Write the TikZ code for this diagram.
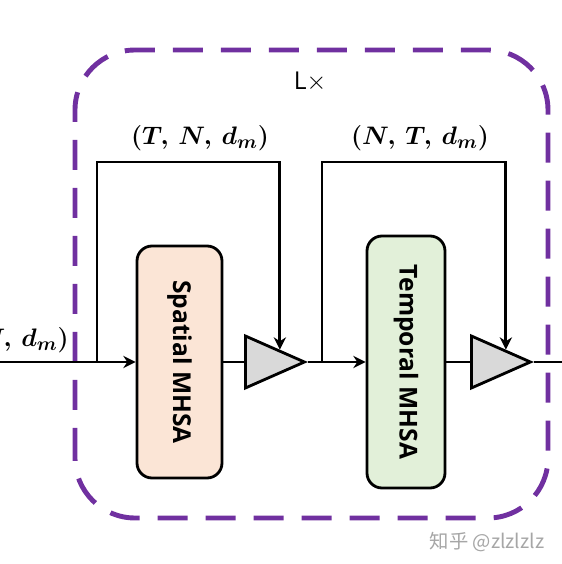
\documentclass[tikz,border=0pt]{standalone}
\usepackage{fontspec}
\setsansfont{Open Sans}
\newfontfamily\cjkfont{Noto Sans CJK SC}
\usepackage{amsmath}
\usetikzlibrary{positioning,calc,shapes.geometric,arrows.meta}

\definecolor{blockpurple}{HTML}{7030A0}
\definecolor{spatialfill}{HTML}{FBE5D6}
\definecolor{temporalfill}{HTML}{E2F0D9}
\definecolor{addfill}{HTML}{D9D9D9}

\tikzset{
  mhsa/.style = {draw, line width=1.6pt, rounded corners=0.3cm, rotate=-90,
    font=\sffamily\bfseries\fontsize{14}{16}\selectfont, inner sep=0pt},
  addgate/.style = {draw, line width=1.6pt, fill=addfill, isosceles triangle,
    isosceles triangle stretches, minimum width=1.04cm, minimum height=1.18cm,
    inner sep=0pt, anchor=west},
  flow/.style = {line width=1.6pt, -{Stealth[length=7pt,width=7pt]}},
  shape label/.style = {font=\fontsize{15}{17}\selectfont\boldmath}
}

\begin{document}
\begin{tikzpicture}
  \useasboundingbox (0,0) rectangle (11.24,11.28);

  % repeated block
  \draw[blockpurple, line width=2.8pt, dash pattern=on 0.6cm off 0.36cm,
    rounded corners=1.2cm] (1.5,0.92) rectangle (10.96,10.28);
  \node (repeat) at (6.2,9.64) {\sffamily\fontsize{14}{16}\selectfont L$\times$};

  \coordinate (in) at (0,4.04);
  \node (spatial) [mhsa, fill=spatialfill, minimum width=4.64cm,
    minimum height=1.7cm] at (3.59,4.04) {Spatial MHSA};
  \node (add1) [addgate] at (4.88,4.04) {};
  \node (temporal) [mhsa, fill=temporalfill, minimum width=5.04cm,
    minimum height=1.56cm] at (8.12,4.04) {Temporal MHSA};
  \node (add2) [addgate] at (9.4,4.04) {};
  \coordinate (out) at (11.24,4.04);

  % skip connections
  \coordinate (fork1) at (1.94,4.04);
  \coordinate (fork2) at (6.44,4.04);
  \coordinate (join1) at ($(add1.left corner)!0.56!(add1.apex)$);
  \coordinate (join2) at ($(add2.left corner)!0.56!(add2.apex)$);

  \draw[flow] (in) -- (spatial.south);
  \draw[line width=1.6pt] (spatial.north) -- (add1.west);
  \draw[flow] (add1.apex) -- (temporal.south);
  \draw[line width=1.6pt] (temporal.north) -- (add2.west);
  \draw[line width=1.6pt] (add2.apex) -- (out);

  \draw[flow] (fork1) -- (fork1 |- 0,8.04) -| (join1);
  \draw[flow] (fork2) -- (fork2 |- 0,8.04) -| (join2);

  \node (shape1) [shape label] at (4.0,8.52) {$(T,\,N,\,d_m)$};
  \node (shape2) [shape label] at (8.4,8.52) {$(N,\,T,\,d_m)$};
  \node (shape0) [shape label, anchor=south east] at (1.5,4.1) {$(T,\,N,\,d_m)$};

  \node (mark) [text=black!35] at (9.74,0.44)
    {\cjkfont\fontsize{11}{13}\selectfont 知乎 @zlzlzlz};
\end{tikzpicture}
\end{document}
